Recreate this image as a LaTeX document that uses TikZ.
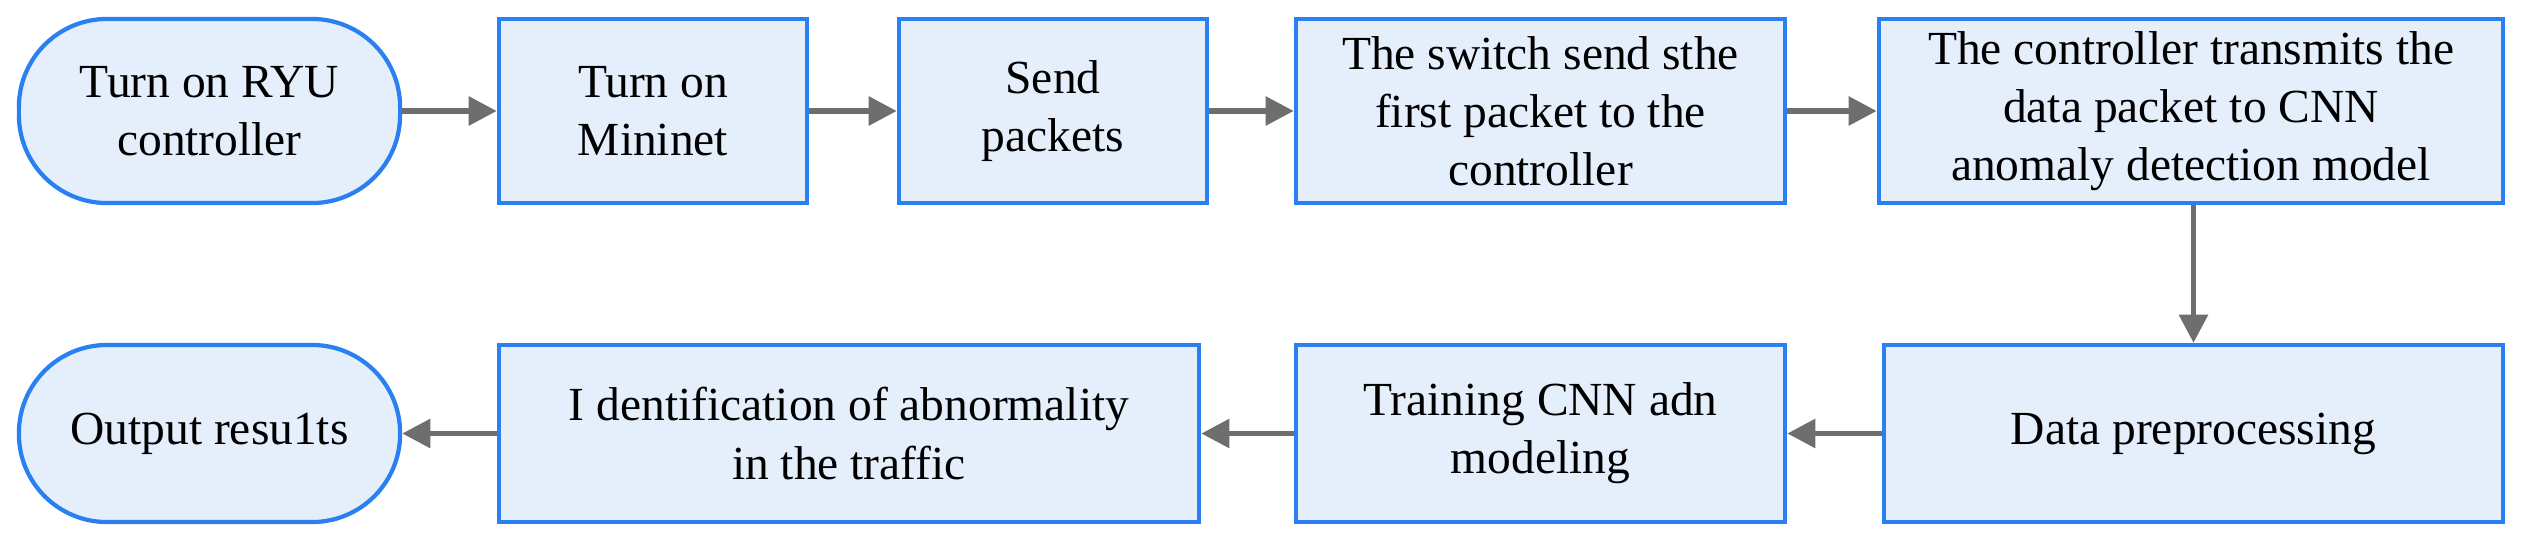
\documentclass[tikz,border=0pt]{standalone}
\usepackage{fontspec}
\setmainfont{Liberation Serif}
\usetikzlibrary{arrows.meta}
\definecolor{bd}{HTML}{2A80F0}
\definecolor{fl}{HTML}{E4EFFB}
\definecolor{ar}{HTML}{6E6E6E}
\begin{document}
\begin{tikzpicture}[x=0.01cm,y=-0.01cm,
 box/.style={draw=bd,line width=1.2pt,fill=fl,inner sep=0pt,align=center,font=\fontsize{13.5}{16.5}\selectfont},
 rbox/.style={box,rounded corners=0.88cm},
 arr/.style={draw=ar,line width=1.6pt,-{Triangle[length=8pt,width=8pt]}}]
\useasboundingbox (0,0) rectangle (2541,548);
\node[rbox,minimum width=3.81cm,minimum height=1.84cm] (a) at (209.5,111) {Turn on RYU\\controller};
\node[box,minimum width=3.08cm,minimum height=1.84cm] (b) at (653,111) {Turn on\\Mininet};
\node[box,minimum width=3.08cm,minimum height=1.84cm] (c) at (1053,111) {Send\\packets};
\node[box,minimum width=4.89cm,minimum height=1.84cm] (d) at (1540.5,111) {The switch send sthe\\first packet to the\\controller};
\node[box,minimum width=6.24cm,minimum height=1.84cm] (e) at (2191,111) {The controller transmits the\\data packet to CNN\\anomaly detection model};
\node[box,minimum width=6.19cm,minimum height=1.77cm] (f) at (2193.5,433.5) {Data preprocessing};
\node[box,minimum width=4.89cm,minimum height=1.77cm] (g) at (1540.5,433.5) {Training CNN adn\\modeling};
\node[box,minimum width=7.0cm,minimum height=1.77cm] (h) at (849,433.5) {I dentification of abnormality\\in the traffic};
\node[rbox,minimum width=3.81cm,minimum height=1.77cm] (i) at (209.5,433.5) {Output resu1ts};
\draw[arr] (a) -- (b);
\draw[arr] (b) -- (c);
\draw[arr] (c) -- (d);
\draw[arr] (d) -- (e);
\draw[arr] (e.south -| f) -- (f.north);
\draw[arr] (f) -- (g);
\draw[arr] (g) -- (h);
\draw[arr] (h) -- (i);
\end{tikzpicture}
\end{document}
